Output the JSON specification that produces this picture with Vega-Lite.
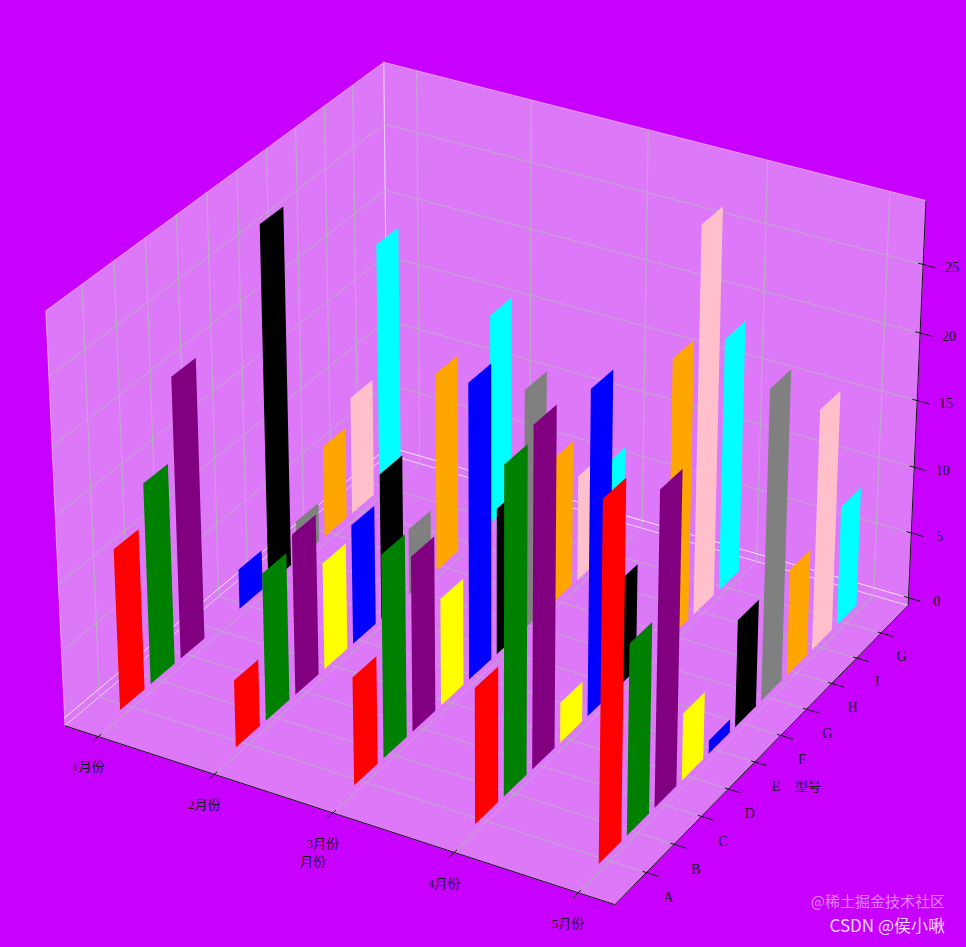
{
  "$schema": "https://vega.github.io/schema/vega-lite/v6.json",
  "width": 966,
  "height": 947,
  "padding": 0,
  "autosize": {"type": "none"},
  "background": "#c800ff",
  "config": {"view": {"stroke": null}},
  "title": {
    "text": "@稀土掘金技术社区",
    "subtitle": "CSDN @侯小啾",
    "orient": "bottom",
    "anchor": "end",
    "frame": "group",
    "offset": -52,
    "dx": -21,
    "font": "Noto Sans CJK SC",
    "fontSize": 15,
    "fontWeight": "normal",
    "color": "rgba(255,255,255,0.5)",
    "subtitleFont": "Noto Sans CJK SC",
    "subtitleFontSize": 17,
    "subtitleColor": "rgba(255,255,255,0.85)",
    "subtitlePadding": 9
  },
  "datasets": {
    "bars": [
      {"month": "1月份", "m": 0, "model": "A", "i": 0, "value": 12},
      {"month": "1月份", "m": 0, "model": "B", "i": 1, "value": 15},
      {"month": "1月份", "m": 0, "model": "C", "i": 2, "value": 21},
      {"month": "1月份", "m": 0, "model": "D", "i": 3, "value": 0},
      {"month": "1月份", "m": 0, "model": "E", "i": 4, "value": 3},
      {"month": "1月份", "m": 0, "model": "F", "i": 5, "value": 27},
      {"month": "1月份", "m": 0, "model": "G", "i": 6, "value": 3},
      {"month": "1月份", "m": 0, "model": "H", "i": 7, "value": 7},
      {"month": "1月份", "m": 0, "model": "I", "i": 8, "value": 9},
      {"month": "1月份", "m": 0, "model": "G", "i": 9, "value": 19},
      {"month": "2月份", "m": 1, "model": "A", "i": 0, "value": 5},
      {"month": "2月份", "m": 1, "model": "B", "i": 1, "value": 11},
      {"month": "2月份", "m": 1, "model": "C", "i": 2, "value": 12},
      {"month": "2月份", "m": 1, "model": "D", "i": 3, "value": 8},
      {"month": "2月份", "m": 1, "model": "E", "i": 4, "value": 9},
      {"month": "2月份", "m": 1, "model": "F", "i": 5, "value": 11},
      {"month": "2月份", "m": 1, "model": "G", "i": 6, "value": 5},
      {"month": "2月份", "m": 1, "model": "H", "i": 7, "value": 15},
      {"month": "2月份", "m": 1, "model": "I", "i": 8, "value": 0},
      {"month": "2月份", "m": 1, "model": "G", "i": 9, "value": 16},
      {"month": "3月份", "m": 2, "model": "A", "i": 0, "value": 8},
      {"month": "3月份", "m": 2, "model": "B", "i": 1, "value": 15},
      {"month": "3月份", "m": 2, "model": "C", "i": 2, "value": 13},
      {"month": "3月份", "m": 2, "model": "D", "i": 3, "value": 8},
      {"month": "3月份", "m": 2, "model": "E", "i": 4, "value": 22},
      {"month": "3月份", "m": 2, "model": "F", "i": 5, "value": 11},
      {"month": "3月份", "m": 2, "model": "G", "i": 6, "value": 18},
      {"month": "3月份", "m": 2, "model": "H", "i": 7, "value": 11},
      {"month": "3月份", "m": 2, "model": "I", "i": 8, "value": 8},
      {"month": "3月份", "m": 2, "model": "G", "i": 9, "value": 7},
      {"month": "4月份", "m": 3, "model": "A", "i": 0, "value": 10},
      {"month": "4月份", "m": 3, "model": "B", "i": 1, "value": 24},
      {"month": "4月份", "m": 3, "model": "C", "i": 2, "value": 25},
      {"month": "4月份", "m": 3, "model": "D", "i": 3, "value": 3},
      {"month": "4月份", "m": 3, "model": "E", "i": 4, "value": 24},
      {"month": "4月份", "m": 3, "model": "F", "i": 5, "value": 8},
      {"month": "4月份", "m": 3, "model": "G", "i": 6, "value": 0},
      {"month": "4月份", "m": 3, "model": "H", "i": 7, "value": 21},
      {"month": "4月份", "m": 3, "model": "I", "i": 8, "value": 29},
      {"month": "4月份", "m": 3, "model": "G", "i": 9, "value": 19},
      {"month": "5月份", "m": 4, "model": "A", "i": 0, "value": 26},
      {"month": "5月份", "m": 4, "model": "B", "i": 1, "value": 14},
      {"month": "5月份", "m": 4, "model": "C", "i": 2, "value": 23},
      {"month": "5月份", "m": 4, "model": "D", "i": 3, "value": 5},
      {"month": "5月份", "m": 4, "model": "E", "i": 4, "value": 1},
      {"month": "5月份", "m": 4, "model": "F", "i": 5, "value": 8},
      {"month": "5月份", "m": 4, "model": "G", "i": 6, "value": 23},
      {"month": "5月份", "m": 4, "model": "H", "i": 7, "value": 8},
      {"month": "5月份", "m": 4, "model": "I", "i": 8, "value": 18},
      {"month": "5月份", "m": 4, "model": "G", "i": 9, "value": 9}
    ],
    "xt": [
      {"label": "1月份", "m": 0},
      {"label": "2月份", "m": 1},
      {"label": "3月份", "m": 2},
      {"label": "4月份", "m": 3},
      {"label": "5月份", "m": 4}
    ],
    "yt": [
      {"label": "A", "i": 0},
      {"label": "B", "i": 1},
      {"label": "C", "i": 2},
      {"label": "D", "i": 3},
      {"label": "E", "i": 4},
      {"label": "F", "i": 5},
      {"label": "G", "i": 6},
      {"label": "H", "i": 7},
      {"label": "I", "i": 8},
      {"label": "G", "i": 9}
    ],
    "zt": [
      {"t": 0}, {"t": 5}, {"t": 10}, {"t": 15}, {"t": 20}, {"t": 25}
    ],
    "panes": [
      {"pane": "left"}, {"pane": "back"}, {"pane": "floor"}
    ],
    "edges": [
      {"edge": "x"}, {"edge": "y"}, {"edge": "z"}
    ],
    "axlabels": [
      {"label": "月份", "axis": "x"},
      {"label": "型号", "axis": "y"}
    ]
  },
  "encoding": {
    "x": {"field": "X", "type": "quantitative", "scale": {"domain": [-0.089574, 0.085585], "nice": false, "zero": false}, "axis": null},
    "y": {"field": "Y", "type": "quantitative", "scale": {"domain": [-0.0875, 0.084058], "nice": false, "zero": false}, "axis": null}
  },
  "layer": [
    {
      "data": {"name": "panes"},
      "transform": [
        {"calculate": "[0,1,2,3]", "as": "k"},
        {"flatten": ["k"]},
        {"calculate": "datum.pane == 'left' ? -0.29167 : ((datum.k == 1 || datum.k == 2) ? 4.29167 : -0.29167)", "as": "gx"},
        {"calculate": "datum.pane == 'back' ? 10.1146 : (datum.pane == 'left' ? ((datum.k == 1 || datum.k == 2) ? 10.1146 : -1.1146) : (datum.k >= 2 ? 10.1146 : -1.1146))", "as": "gy"},
        {"calculate": "datum.pane == 'floor' ? -0.604 : (datum.k >= 2 ? 29.604 : -0.604)", "as": "gz"},
        {"calculate": "0.872727*(datum.gx+0.29167)-2", "as": "pa"},
        {"calculate": "0.356214*(datum.gy+1.1146)-2", "as": "pb"},
        {"calculate": "0.0993114*(datum.gz+0.604)-1.5", "as": "pc"},
        {"calculate": "35-(0.4330127*datum.pa-0.75*datum.pb+0.5*datum.pc)", "as": "pd"},
        {"calculate": "(0.8660254*datum.pa+0.5*datum.pb)/datum.pd", "as": "X"},
        {"calculate": "(-0.25*datum.pa+0.4330127*datum.pb+0.8660254*datum.pc)/datum.pd", "as": "Y"}
      ],
      "mark": {"type": "line", "interpolate": "linear-closed", "fill": "#f2f2f2", "fillOpacity": 0.5, "stroke": "#f2f2f2", "strokeOpacity": 0.5, "strokeWidth": 1},
      "encoding": {
        "detail": {"field": "pane", "type": "nominal"},
        "order": {"field": "k", "type": "quantitative"}
      }
    },
    {
      "data": {"name": "xt"},
      "transform": [
        {"calculate": "[0,1,2]", "as": "k"},
        {"flatten": ["k"]},
        {"calculate": "datum.m", "as": "gx"},
        {"calculate": "datum.k == 0 ? -1.1146 : 10.1146", "as": "gy"},
        {"calculate": "datum.k == 2 ? 29.604 : -0.604", "as": "gz"},
        {"calculate": "0.872727*(datum.gx+0.29167)-2", "as": "pa"},
        {"calculate": "0.356214*(datum.gy+1.1146)-2", "as": "pb"},
        {"calculate": "0.0993114*(datum.gz+0.604)-1.5", "as": "pc"},
        {"calculate": "35-(0.4330127*datum.pa-0.75*datum.pb+0.5*datum.pc)", "as": "pd"},
        {"calculate": "(0.8660254*datum.pa+0.5*datum.pb)/datum.pd", "as": "X"},
        {"calculate": "(-0.25*datum.pa+0.4330127*datum.pb+0.8660254*datum.pc)/datum.pd", "as": "Y"}
      ],
      "mark": {"type": "line", "stroke": "#bcaec6", "strokeWidth": 1},
      "encoding": {
        "detail": {"field": "m", "type": "nominal"},
        "order": {"field": "k", "type": "quantitative"}
      }
    },
    {
      "data": {"name": "yt"},
      "transform": [
        {"calculate": "[0,1,2]", "as": "k"},
        {"flatten": ["k"]},
        {"calculate": "datum.k == 0 ? 4.29167 : -0.29167", "as": "gx"},
        {"calculate": "datum.i", "as": "gy"},
        {"calculate": "datum.k == 2 ? 29.604 : -0.604", "as": "gz"},
        {"calculate": "0.872727*(datum.gx+0.29167)-2", "as": "pa"},
        {"calculate": "0.356214*(datum.gy+1.1146)-2", "as": "pb"},
        {"calculate": "0.0993114*(datum.gz+0.604)-1.5", "as": "pc"},
        {"calculate": "35-(0.4330127*datum.pa-0.75*datum.pb+0.5*datum.pc)", "as": "pd"},
        {"calculate": "(0.8660254*datum.pa+0.5*datum.pb)/datum.pd", "as": "X"},
        {"calculate": "(-0.25*datum.pa+0.4330127*datum.pb+0.8660254*datum.pc)/datum.pd", "as": "Y"}
      ],
      "mark": {"type": "line", "stroke": "#bcaec6", "strokeWidth": 1},
      "encoding": {
        "detail": {"field": "i", "type": "nominal"},
        "order": {"field": "k", "type": "quantitative"}
      }
    },
    {
      "data": {"name": "zt"},
      "transform": [
        {"calculate": "[0,1,2]", "as": "k"},
        {"flatten": ["k"]},
        {"calculate": "datum.k == 2 ? 4.29167 : -0.29167", "as": "gx"},
        {"calculate": "datum.k == 0 ? -1.1146 : 10.1146", "as": "gy"},
        {"calculate": "datum.t", "as": "gz"},
        {"calculate": "0.872727*(datum.gx+0.29167)-2", "as": "pa"},
        {"calculate": "0.356214*(datum.gy+1.1146)-2", "as": "pb"},
        {"calculate": "0.0993114*(datum.gz+0.604)-1.5", "as": "pc"},
        {"calculate": "35-(0.4330127*datum.pa-0.75*datum.pb+0.5*datum.pc)", "as": "pd"},
        {"calculate": "(0.8660254*datum.pa+0.5*datum.pb)/datum.pd", "as": "X"},
        {"calculate": "(-0.25*datum.pa+0.4330127*datum.pb+0.8660254*datum.pc)/datum.pd", "as": "Y"}
      ],
      "mark": {"type": "line", "strokeWidth": 1},
      "encoding": {
        "detail": {"field": "t", "type": "nominal"},
        "order": {"field": "k", "type": "quantitative"},
        "stroke": {"condition": {"test": "datum.t == 0", "value": "#f6e6fb"}, "value": "#bcaec6"}
      }
    },
    {
      "data": {"name": "edges"},
      "transform": [
        {"calculate": "[0,1]", "as": "k"},
        {"flatten": ["k"]},
        {"calculate": "datum.edge == 'x' ? (datum.k == 0 ? -0.29167 : 4.29167) : 4.29167", "as": "gx"},
        {"calculate": "datum.edge == 'x' ? -1.1146 : (datum.edge == 'y' ? (datum.k == 0 ? -1.1146 : 10.1146) : 10.1146)", "as": "gy"},
        {"calculate": "datum.edge == 'z' ? (datum.k == 0 ? -0.604 : 29.604) : -0.604", "as": "gz"},
        {"calculate": "0.872727*(datum.gx+0.29167)-2", "as": "pa"},
        {"calculate": "0.356214*(datum.gy+1.1146)-2", "as": "pb"},
        {"calculate": "0.0993114*(datum.gz+0.604)-1.5", "as": "pc"},
        {"calculate": "35-(0.4330127*datum.pa-0.75*datum.pb+0.5*datum.pc)", "as": "pd"},
        {"calculate": "(0.8660254*datum.pa+0.5*datum.pb)/datum.pd", "as": "X"},
        {"calculate": "(-0.25*datum.pa+0.4330127*datum.pb+0.8660254*datum.pc)/datum.pd", "as": "Y"}
      ],
      "mark": {"type": "line", "stroke": "#111111", "strokeWidth": 1},
      "encoding": {
        "detail": {"field": "edge", "type": "nominal"},
        "order": {"field": "k", "type": "quantitative"}
      }
    },
    {
      "data": {"name": "xt"},
      "transform": [
        {"calculate": "[0,1]", "as": "k"},
        {"flatten": ["k"]},
        {"calculate": "datum.m", "as": "gx"},
        {"calculate": "datum.k == 0 ? -1.3046 : -1.0146", "as": "gy"},
        {"calculate": "-0.604", "as": "gz"},
        {"calculate": "0.872727*(datum.gx+0.29167)-2", "as": "pa"},
        {"calculate": "0.356214*(datum.gy+1.1146)-2", "as": "pb"},
        {"calculate": "0.0993114*(datum.gz+0.604)-1.5", "as": "pc"},
        {"calculate": "35-(0.4330127*datum.pa-0.75*datum.pb+0.5*datum.pc)", "as": "pd"},
        {"calculate": "(0.8660254*datum.pa+0.5*datum.pb)/datum.pd", "as": "X"},
        {"calculate": "(-0.25*datum.pa+0.4330127*datum.pb+0.8660254*datum.pc)/datum.pd", "as": "Y"}
      ],
      "mark": {"type": "line", "stroke": "#111111", "strokeWidth": 1},
      "encoding": {
        "detail": {"field": "m", "type": "nominal"},
        "order": {"field": "k", "type": "quantitative"}
      }
    },
    {
      "data": {"name": "yt"},
      "transform": [
        {"calculate": "[0,1]", "as": "k"},
        {"flatten": ["k"]},
        {"calculate": "datum.k == 0 ? 4.26167 : 4.39167", "as": "gx"},
        {"calculate": "datum.i", "as": "gy"},
        {"calculate": "-0.604", "as": "gz"},
        {"calculate": "0.872727*(datum.gx+0.29167)-2", "as": "pa"},
        {"calculate": "0.356214*(datum.gy+1.1146)-2", "as": "pb"},
        {"calculate": "0.0993114*(datum.gz+0.604)-1.5", "as": "pc"},
        {"calculate": "35-(0.4330127*datum.pa-0.75*datum.pb+0.5*datum.pc)", "as": "pd"},
        {"calculate": "(0.8660254*datum.pa+0.5*datum.pb)/datum.pd", "as": "X"},
        {"calculate": "(-0.25*datum.pa+0.4330127*datum.pb+0.8660254*datum.pc)/datum.pd", "as": "Y"}
      ],
      "mark": {"type": "line", "stroke": "#111111", "strokeWidth": 1},
      "encoding": {
        "detail": {"field": "i", "type": "nominal"},
        "order": {"field": "k", "type": "quantitative"}
      }
    },
    {
      "data": {"name": "zt"},
      "transform": [
        {"calculate": "[0,1]", "as": "k"},
        {"flatten": ["k"]},
        {"calculate": "datum.k == 0 ? 4.25167 : 4.39167", "as": "gx"},
        {"calculate": "10.1146", "as": "gy"},
        {"calculate": "datum.t", "as": "gz"},
        {"calculate": "0.872727*(datum.gx+0.29167)-2", "as": "pa"},
        {"calculate": "0.356214*(datum.gy+1.1146)-2", "as": "pb"},
        {"calculate": "0.0993114*(datum.gz+0.604)-1.5", "as": "pc"},
        {"calculate": "35-(0.4330127*datum.pa-0.75*datum.pb+0.5*datum.pc)", "as": "pd"},
        {"calculate": "(0.8660254*datum.pa+0.5*datum.pb)/datum.pd", "as": "X"},
        {"calculate": "(-0.25*datum.pa+0.4330127*datum.pb+0.8660254*datum.pc)/datum.pd", "as": "Y"}
      ],
      "mark": {"type": "line", "stroke": "#111111", "strokeWidth": 1},
      "encoding": {
        "detail": {"field": "t", "type": "nominal"},
        "order": {"field": "k", "type": "quantitative"}
      }
    },
    {
      "data": {"name": "bars"},
      "transform": [
        {"calculate": "datum.m * 10 + datum.i", "as": "bid"},
        {"calculate": "[0,1,2,3]", "as": "k"},
        {"flatten": ["k"]},
        {"calculate": "datum.m", "as": "gx"},
        {"calculate": "datum.i + ((datum.k == 1 || datum.k == 2) ? 0.4 : -0.4)", "as": "gy"},
        {"calculate": "datum.k >= 2 ? datum.value : 0", "as": "gz"},
        {"calculate": "0.872727*(datum.gx+0.29167)-2", "as": "pa"},
        {"calculate": "0.356214*(datum.gy+1.1146)-2", "as": "pb"},
        {"calculate": "0.0993114*(datum.gz+0.604)-1.5", "as": "pc"},
        {"calculate": "35-(0.4330127*datum.pa-0.75*datum.pb+0.5*datum.pc)", "as": "pd"},
        {"calculate": "(0.8660254*datum.pa+0.5*datum.pb)/datum.pd", "as": "X"},
        {"calculate": "(-0.25*datum.pa+0.4330127*datum.pb+0.8660254*datum.pc)/datum.pd", "as": "Y"}
      ],
      "mark": {"type": "line", "interpolate": "linear-closed", "strokeOpacity": 0, "strokeWidth": 0},
      "encoding": {
        "detail": {"field": "bid", "type": "nominal"},
        "order": {"field": "k", "type": "quantitative"},
        "fill": {
          "field": "i",
          "type": "nominal",
          "scale": {
            "domain": [0, 1, 2, 3, 4, 5, 6, 7, 8, 9],
            "range": ["#ff0000", "#008000", "#800080", "#ffff00", "#0000ff", "#000000", "#808080", "#ffa500", "#ffc0cb", "#00ffff"]
          },
          "legend": null
        }
      }
    },
    {
      "data": {"name": "xt"},
      "transform": [
        {"calculate": "datum.m", "as": "gx"},
        {"calculate": "-1.4646", "as": "gy"},
        {"calculate": "-2.204", "as": "gz"},
        {"calculate": "0.872727*(datum.gx+0.29167)-2", "as": "pa"},
        {"calculate": "0.356214*(datum.gy+1.1146)-2", "as": "pb"},
        {"calculate": "0.0993114*(datum.gz+0.604)-1.5", "as": "pc"},
        {"calculate": "35-(0.4330127*datum.pa-0.75*datum.pb+0.5*datum.pc)", "as": "pd"},
        {"calculate": "(0.8660254*datum.pa+0.5*datum.pb)/datum.pd", "as": "X"},
        {"calculate": "(-0.25*datum.pa+0.4330127*datum.pb+0.8660254*datum.pc)/datum.pd", "as": "Y"}
      ],
      "mark": {"type": "text", "align": "center", "baseline": "middle", "fontSize": 13, "font": "'Liberation Serif', 'Noto Sans CJK SC', serif", "color": "#1a1a1a"},
      "encoding": {"text": {"field": "label"}}
    },
    {
      "data": {"name": "yt"},
      "transform": [
        {"calculate": "4.469", "as": "gx"},
        {"calculate": "datum.i", "as": "gy"},
        {"calculate": "-1.99", "as": "gz"},
        {"calculate": "0.872727*(datum.gx+0.29167)-2", "as": "pa"},
        {"calculate": "0.356214*(datum.gy+1.1146)-2", "as": "pb"},
        {"calculate": "0.0993114*(datum.gz+0.604)-1.5", "as": "pc"},
        {"calculate": "35-(0.4330127*datum.pa-0.75*datum.pb+0.5*datum.pc)", "as": "pd"},
        {"calculate": "(0.8660254*datum.pa+0.5*datum.pb)/datum.pd", "as": "X"},
        {"calculate": "(-0.25*datum.pa+0.4330127*datum.pb+0.8660254*datum.pc)/datum.pd", "as": "Y"}
      ],
      "mark": {"type": "text", "align": "center", "baseline": "middle", "fontSize": 14, "font": "'Liberation Serif', 'Noto Sans CJK SC', serif", "color": "#1a1a1a"},
      "encoding": {"text": {"field": "label"}}
    },
    {
      "data": {"name": "zt"},
      "transform": [
        {"calculate": "4.50", "as": "gx"},
        {"calculate": "10.255", "as": "gy"},
        {"calculate": "datum.t", "as": "gz"},
        {"calculate": "0.872727*(datum.gx+0.29167)-2", "as": "pa"},
        {"calculate": "0.356214*(datum.gy+1.1146)-2", "as": "pb"},
        {"calculate": "0.0993114*(datum.gz+0.604)-1.5", "as": "pc"},
        {"calculate": "35-(0.4330127*datum.pa-0.75*datum.pb+0.5*datum.pc)", "as": "pd"},
        {"calculate": "(0.8660254*datum.pa+0.5*datum.pb)/datum.pd", "as": "X"},
        {"calculate": "(-0.25*datum.pa+0.4330127*datum.pb+0.8660254*datum.pc)/datum.pd", "as": "Y"}
      ],
      "mark": {"type": "text", "align": "center", "baseline": "middle", "fontSize": 14, "font": "'Liberation Serif', 'Noto Sans CJK SC', serif", "color": "#1a1a1a"},
      "encoding": {"text": {"field": "t", "type": "quantitative"}}
    },
    {
      "data": {"name": "axlabels"},
      "transform": [
        {"calculate": "datum.axis == 'x' ? 2 : 4.626", "as": "gx"},
        {"calculate": "datum.axis == 'x' ? -1.80 : 4.5", "as": "gy"},
        {"calculate": "datum.axis == 'x' ? -2.87 : -2.562", "as": "gz"},
        {"calculate": "0.872727*(datum.gx+0.29167)-2", "as": "pa"},
        {"calculate": "0.356214*(datum.gy+1.1146)-2", "as": "pb"},
        {"calculate": "0.0993114*(datum.gz+0.604)-1.5", "as": "pc"},
        {"calculate": "35-(0.4330127*datum.pa-0.75*datum.pb+0.5*datum.pc)", "as": "pd"},
        {"calculate": "(0.8660254*datum.pa+0.5*datum.pb)/datum.pd", "as": "X"},
        {"calculate": "(-0.25*datum.pa+0.4330127*datum.pb+0.8660254*datum.pc)/datum.pd", "as": "Y"}
      ],
      "mark": {"type": "text", "align": "center", "baseline": "middle", "fontSize": 13, "font": "'Liberation Serif', 'Noto Sans CJK SC', serif", "color": "#1a1a1a"},
      "encoding": {"text": {"field": "label"}}
    }
  ]
}
